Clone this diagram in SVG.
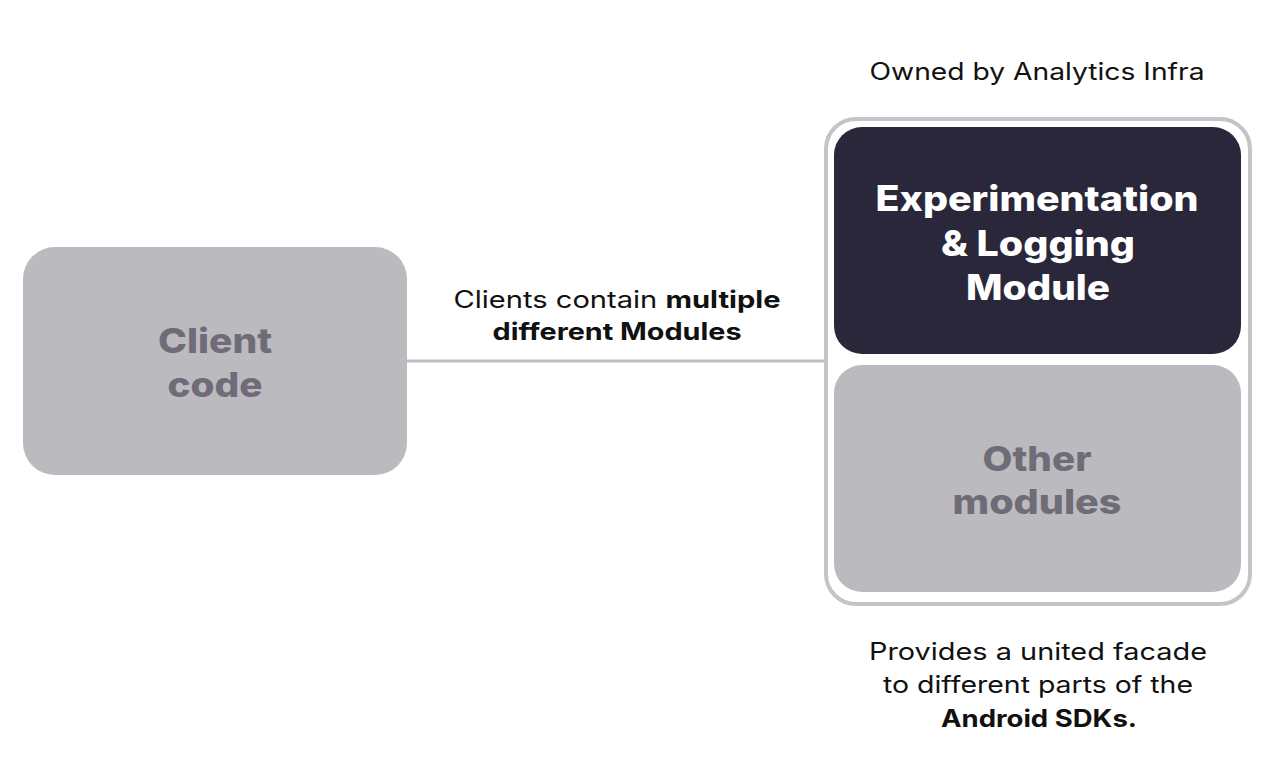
<svg xmlns="http://www.w3.org/2000/svg" width="1280" height="775" viewBox="0 0 1280 775">
<style>
text{font-family:Inter,"Open Sans","Noto Sans",sans-serif;text-anchor:middle}
.lbl{font-size:24px;fill:#111}
.b{font-weight:700}
.grey{fill:#bbbabe}
.gt{font-size:34px;font-weight:800;fill:#6f6c78}
.wt{font-size:35px;font-weight:800;fill:#ffffff}
</style>
<rect width="1280" height="775" fill="#ffffff"/>
<g id="connectors">
<line x1="407" y1="361" x2="826" y2="361" stroke="#bdbcc0" stroke-width="3"/>
</g>
<g id="client-code">
<rect class="grey" x="23" y="247" width="384" height="228" rx="32"/>
<text class="gt" x="215" y="353" textLength="114" lengthAdjust="spacingAndGlyphs">Client</text>
<text class="gt" x="215" y="397" textLength="95" lengthAdjust="spacingAndGlyphs">code</text>
</g>
<g id="edge-label">
<text class="lbl" x="617" y="308" textLength="327" lengthAdjust="spacingAndGlyphs">Clients contain <tspan class="b">multiple</tspan></text>
<text class="lbl b" x="617" y="340" textLength="249" lengthAdjust="spacingAndGlyphs">different  Modules</text>
</g>
<g id="owned-label">
<text class="lbl" x="1037" y="80" textLength="335" lengthAdjust="spacingAndGlyphs">Owned by Analytics Infra</text>
</g>
<g id="container">
<rect x="826" y="119" width="424" height="485" rx="30" fill="#ffffff" stroke="#c4c3c7" stroke-width="4"/>
</g>
<g id="experimentation-module">
<rect x="834" y="127" width="407" height="227" rx="28" fill="#2a273a"/>
<text class="wt" x="1037" y="211" textLength="323" lengthAdjust="spacingAndGlyphs">Experimentation</text>
<text class="wt" x="1038" y="256" textLength="194" lengthAdjust="spacingAndGlyphs">&amp; Logging</text>
<text class="wt" x="1038" y="300" textLength="144" lengthAdjust="spacingAndGlyphs">Module</text>
</g>
<g id="other-modules">
<rect class="grey" x="834" y="365" width="407" height="227" rx="28"/>
<text class="gt" x="1037" y="471" textLength="109" lengthAdjust="spacingAndGlyphs">Other</text>
<text class="gt" x="1037" y="514" textLength="169" lengthAdjust="spacingAndGlyphs">modules</text>
</g>
<g id="facade-label">
<text class="lbl" x="1038" y="660" textLength="338" lengthAdjust="spacingAndGlyphs">Provides a united facade</text>
<text class="lbl" x="1038" y="693" textLength="310" lengthAdjust="spacingAndGlyphs">to different parts of the</text>
<text class="lbl b" x="1039" y="727" textLength="196" lengthAdjust="spacingAndGlyphs">Android SDKs.</text>
</g>
</svg>
